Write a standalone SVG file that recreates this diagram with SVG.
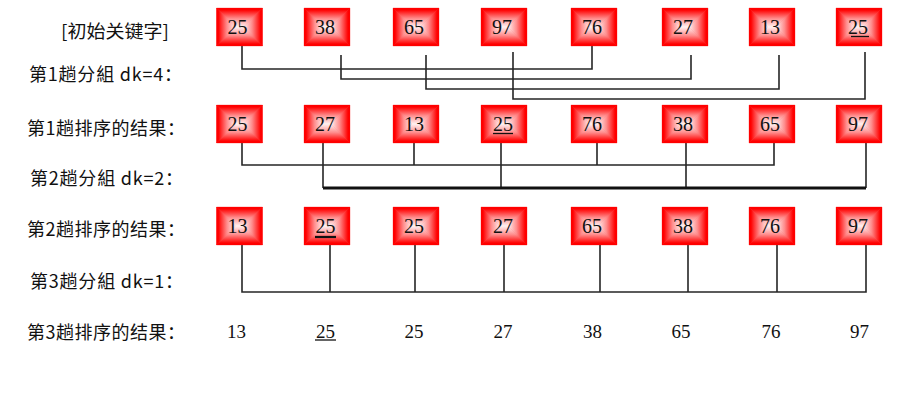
<svg xmlns="http://www.w3.org/2000/svg" xmlns:xlink="http://www.w3.org/1999/xlink" width="924" height="408" viewBox="0 0 924 408">
<style>
.lbl{font-family:"Noto Sans CJK SC","Noto Sans CJK TC",sans-serif;font-size:18px;fill:#111;dominant-baseline:central}
.num{font-family:"Liberation Serif",serif;font-size:20px;fill:#111;text-anchor:middle;dominant-baseline:central}
.res{font-family:"Liberation Serif",serif;font-size:19px;fill:#111;text-anchor:middle;dominant-baseline:central}
.ul{stroke:#111;stroke-width:1.3}
.ulb{stroke:#111;stroke-width:2.2}
.cn{fill:none;stroke:#262626;stroke-width:1.6}
.cnb{fill:none;stroke:#111;stroke-width:3}
</style>
<defs>
<linearGradient id="gT" gradientUnits="userSpaceOnUse" x1="0" y1="0" x2="0" y2="19">
<stop offset="0" stop-color="#ff0000"/><stop offset="0.1" stop-color="#ff0000"/><stop offset="0.55" stop-color="#ff8c8c"/><stop offset="1" stop-color="#fff2f2"/>
</linearGradient>
<linearGradient id="gB" gradientUnits="userSpaceOnUse" x1="0" y1="38" x2="0" y2="19">
<stop offset="0" stop-color="#ff0000"/><stop offset="0.1" stop-color="#ff0000"/><stop offset="0.55" stop-color="#ff8c8c"/><stop offset="1" stop-color="#fff2f2"/>
</linearGradient>
<linearGradient id="gL" gradientUnits="userSpaceOnUse" x1="0" y1="0" x2="19" y2="0">
<stop offset="0" stop-color="#ff0000"/><stop offset="0.1" stop-color="#ff0000"/><stop offset="0.55" stop-color="#ff8c8c"/><stop offset="1" stop-color="#fff2f2"/>
</linearGradient>
<linearGradient id="gR" gradientUnits="userSpaceOnUse" x1="46" y1="0" x2="27" y2="0">
<stop offset="0" stop-color="#ff0000"/><stop offset="0.1" stop-color="#ff0000"/><stop offset="0.55" stop-color="#ff8c8c"/><stop offset="1" stop-color="#fff2f2"/>
</linearGradient>
<g id="bx">
<rect x="0" y="0" width="46" height="38" fill="#ff5050"/>
<polygon points="0,0 46,0 27,19 19,19" fill="url(#gT)" stroke="url(#gT)" stroke-width="0.3"/>
<polygon points="0,38 46,38 27,19 19,19" fill="url(#gB)" stroke="url(#gB)" stroke-width="0.3"/>
<polygon points="0,0 19,19 0,38" fill="url(#gL)" stroke="url(#gL)" stroke-width="0.3"/>
<polygon points="46,0 27,19 46,38" fill="url(#gR)" stroke="url(#gR)" stroke-width="0.3"/>
</g>
</defs>
<rect width="924" height="408" fill="#fff"/>

<g id="labels">
<text class="lbl" x="61" y="30" textLength="108" lengthAdjust="spacingAndGlyphs">[初始关键字]</text>
<text class="lbl" x="29" y="73" textLength="153" lengthAdjust="spacing">第1趟分組  dk=4：</text>
<text class="lbl" x="27" y="127" textLength="158" lengthAdjust="spacing">第1趟排序的结果：</text>
<text class="lbl" x="30" y="177" textLength="153" lengthAdjust="spacing">第2趟分組  dk=2：</text>
<text class="lbl" x="27" y="228" textLength="158" lengthAdjust="spacing">第2趟排序的结果：</text>
<text class="lbl" x="30" y="280" textLength="153" lengthAdjust="spacing">第3趟分組  dk=1：</text>
<text class="lbl" x="27" y="331" textLength="158" lengthAdjust="spacing">第3趟排序的结果：</text>
</g>

<g id="connectors">
<path class="cn" d="M242,43 V69 H592 V43"/>
<path class="cn" d="M341,55 V79 H691 V55"/>
<path class="cn" d="M426,55 V89 H779 V55"/>
<path class="cn" d="M513,52 V99 H865 V52"/>
<path class="cn" d="M242,143 V165 H774 V142 M414,142 V165 M597,142 V165"/>
<path class="cn" d="M323,142 V188 M501,142 V188 M686,142 V188 M866,142 V188"/>
<path class="cnb" d="M323,188 H866"/>
<path class="cn" d="M242,243 V292 H866 V243 M330,243 V292 M415,243 V292 M504,243 V292 M600,243 V292 M688,243 V292 M777,243 V292"/>
</g>

<g id="r1n1"><use href="#bx" x="216.5" y="8"/><text class="num" x="237.5" y="27">25</text></g>
<g id="r1n2"><use href="#bx" x="304" y="8"/><text class="num" x="325" y="27">38</text></g>
<g id="r1n3"><use href="#bx" x="393" y="8"/><text class="num" x="414" y="27">65</text></g>
<g id="r1n4"><use href="#bx" x="481" y="8"/><text class="num" x="502" y="27">97</text></g>
<g id="r1n5"><use href="#bx" x="571" y="8"/><text class="num" x="592" y="27">76</text></g>
<g id="r1n6"><use href="#bx" x="662" y="8"/><text class="num" x="683" y="27">27</text></g>
<g id="r1n7"><use href="#bx" x="749" y="8"/><text class="num" x="770" y="27">13</text></g>
<g id="r1n8"><use href="#bx" x="836" y="8"/><text class="num" x="858" y="27">25</text><line class="ul" x1="851" y1="36.5" x2="869" y2="36.5"/></g>

<g id="r2n1"><use href="#bx" x="216.5" y="105"/><text class="num" x="237.5" y="124">25</text></g>
<g id="r2n2"><use href="#bx" x="304" y="105"/><text class="num" x="325" y="124">27</text></g>
<g id="r2n3"><use href="#bx" x="393" y="105"/><text class="num" x="414" y="124">13</text></g>
<g id="r2n4"><use href="#bx" x="481" y="105"/><text class="num" x="503" y="124">25</text><line class="ul" x1="493" y1="133.5" x2="513" y2="133.5"/></g>
<g id="r2n5"><use href="#bx" x="571" y="105"/><text class="num" x="592" y="124">76</text></g>
<g id="r2n6"><use href="#bx" x="662" y="105"/><text class="num" x="683" y="124">38</text></g>
<g id="r2n7"><use href="#bx" x="749" y="105"/><text class="num" x="770" y="124">65</text></g>
<g id="r2n8"><use href="#bx" x="836" y="105"/><text class="num" x="858" y="124">97</text></g>

<g id="r3n1"><use href="#bx" x="216.5" y="207"/><text class="num" x="237.5" y="226">13</text></g>
<g id="r3n2"><use href="#bx" x="304" y="207"/><text class="num" x="325.5" y="226">25</text><line class="ulb" x1="315" y1="237" x2="336" y2="237"/></g>
<g id="r3n3"><use href="#bx" x="393" y="207"/><text class="num" x="414" y="226">25</text></g>
<g id="r3n4"><use href="#bx" x="481" y="207"/><text class="num" x="503" y="226">27</text></g>
<g id="r3n5"><use href="#bx" x="571" y="207"/><text class="num" x="592" y="226">65</text></g>
<g id="r3n6"><use href="#bx" x="662" y="207"/><text class="num" x="683" y="226">38</text></g>
<g id="r3n7"><use href="#bx" x="749" y="207"/><text class="num" x="770" y="226">76</text></g>
<g id="r3n8"><use href="#bx" x="836" y="207"/><text class="num" x="858" y="226">97</text></g>

<g id="result">
<text class="res" x="236.5" y="331">13</text>
<text class="res" x="325.5" y="331">25</text><line class="ul" x1="315" y1="340" x2="336" y2="340"/>
<text class="res" x="414" y="331">25</text>
<text class="res" x="503" y="331">27</text>
<text class="res" x="592.5" y="331">38</text>
<text class="res" x="681" y="331">65</text>
<text class="res" x="771" y="331">76</text>
<text class="res" x="859.5" y="331">97</text>
</g>
</svg>
